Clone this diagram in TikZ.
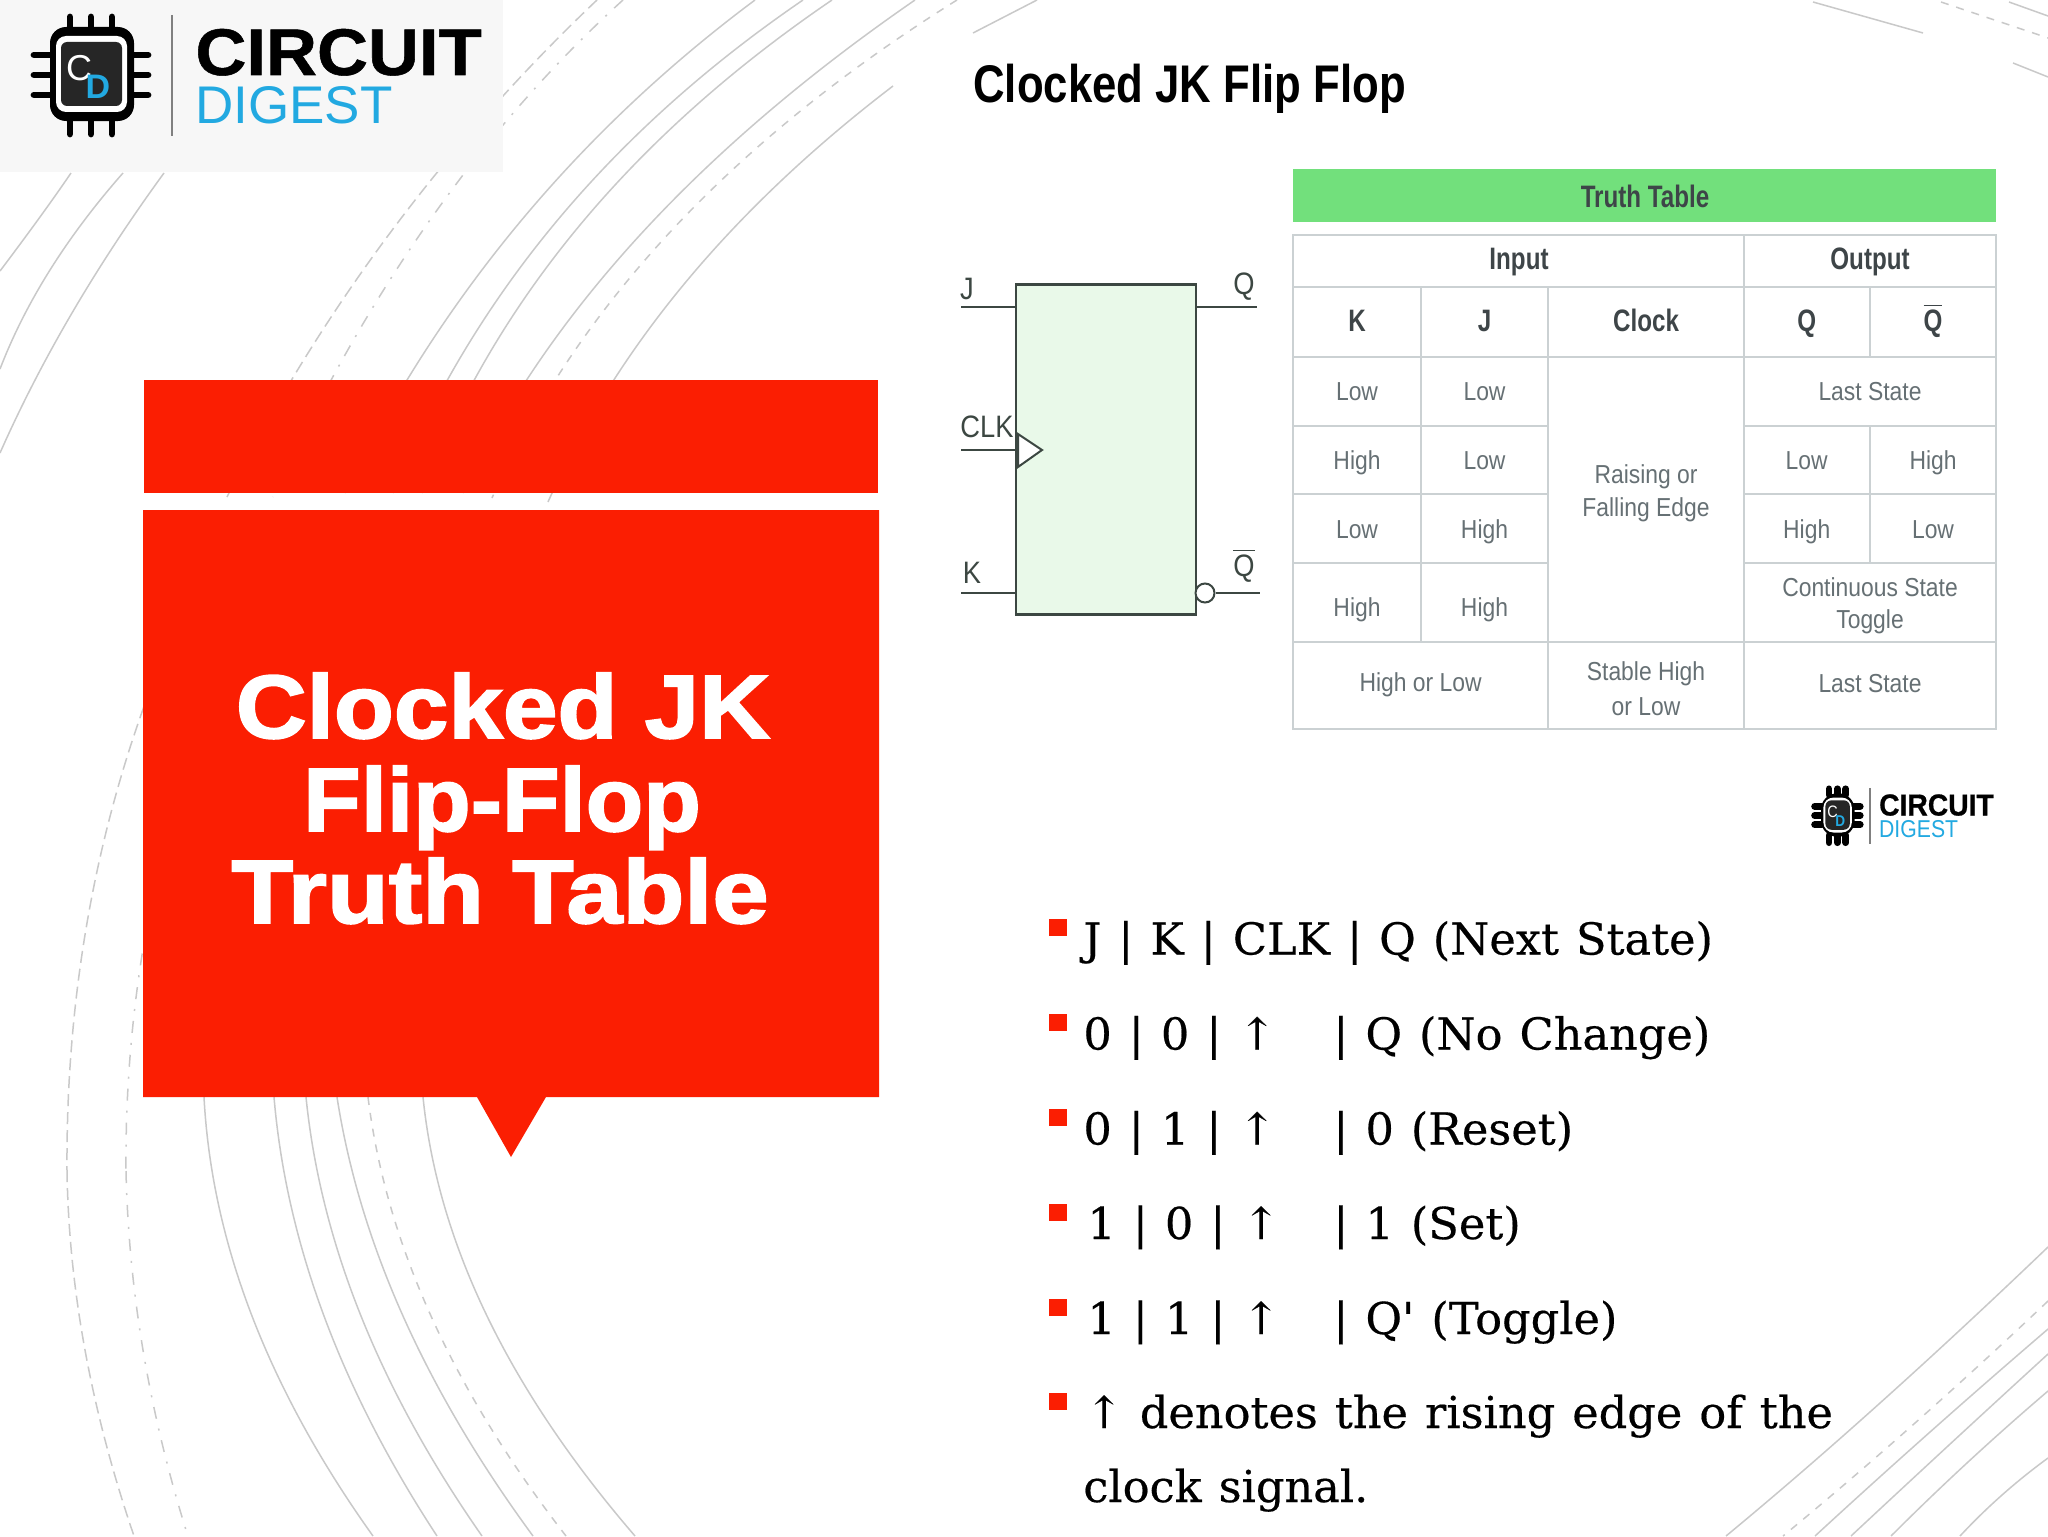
\documentclass[tikz,border=0pt]{standalone}
\usepackage{fontspec}
\usepackage{amsmath}
\usepackage{tikz}
\usetikzlibrary{calc}

\newfontfamily\bannerfont[FakeStretch=1.09,FakeBold=2]{Liberation Sans}
\newfontfamily\titlefont[FakeStretch=.825]{Liberation Sans}
\newfontfamily\headfont[FakeStretch=.78]{Liberation Sans}
\newfontfamily\cellfont[FakeStretch=.88]{Liberation Sans}
\newfontfamily\logofont[FakeStretch=1.07,FakeBold=.8]{Liberation Sans}
\newfontfamily\digestfont{Liberation Sans}
\newfontfamily\listfont[FakeStretch=1.015,WordSpace=1.2,FakeBold=.4]{DejaVu Serif}

\definecolor{slidered}{HTML}{FB1E02}
\definecolor{arcgray}{HTML}{C9C9C9}
\definecolor{headgreen}{HTML}{72E07C}
\definecolor{gridgray}{HTML}{CBD1D3}
\definecolor{headtext}{HTML}{3E4548}
\definecolor{celltext}{HTML}{667074}
\definecolor{wirecol}{HTML}{3C4742}
\definecolor{boxfill}{HTML}{E9F9E9}
\definecolor{logoblue}{HTML}{22A9E1}

% curve through three points
\newcommand{\bgarc}[4]{\draw[#1] (#2) .. controls ($1.3333*(#3)-.3333*(#4)$) and ($1.3333*(#3)-.3333*(#2)$) .. (#4);}

\tikzset{
  arcline/.style={draw=arcgray, line width=.75pt},
  arcdash/.style={arcline, dash pattern=on 4pt off 4pt},
  arclong/.style={arcline, dash pattern=on 6pt off 3pt},
  arcdot/.style={arcline, dash pattern=on 6pt off 5pt on 1pt off 5pt},
  redblock/.style={fill=slidered, draw=none},
  banner/.style={text=white, anchor=base, inner sep=0pt, font=\bannerfont\bfseries\fontsize{45}{46}\selectfont},
  head/.style={text=headtext, inner sep=0pt, text height=11.2pt, text depth=0pt, font=\headfont\bfseries\fontsize{15.5}{18}\selectfont},
  cell/.style={text=celltext, inner sep=0pt, text height=9.4pt, text depth=0pt, font=\cellfont\fontsize{13}{16.5}\selectfont},
  grid line/.style={draw=gridgray, line width=1pt},
  wire/.style={draw=wirecol, line width=1.4pt},
  pinlabel/.style={text=wirecol, inner sep=0pt, text height=11.2pt, text depth=0pt, font=\cellfont\fontsize{15.5}{18}\selectfont},
  item/.style={anchor=base west, inner sep=0pt, font=\listfont\fontsize{22}{26}\selectfont},
  square/.style={fill=slidered, minimum width=9pt, minimum height=8.5pt, inner sep=0pt},
  chippin/.style={draw=black, line width=3.4pt, line cap=round},
  pics/cdlogo/.style={code={
    \draw[chippin] (70,17) -- (70,30) (91,17) -- (91,30) (112,17) -- (112,30);
    \draw[chippin] (70,118) -- (70,134) (91,118) -- (91,134) (112,118) -- (112,134);
    \draw[chippin] (34,55) -- (52,55) (34,75) -- (52,75) (34,95) -- (52,95);
    \draw[chippin] (132,55) -- (148,55) (132,75) -- (148,75) (132,95) -- (148,95);
    \fill[black, rounded corners=8pt] (50,27) rectangle (134,121);
    \fill[white, rounded corners=5pt] (56,36) rectangle (127,112);
    \fill[black!85, rounded corners=3pt] (61,42) rectangle (122,106);
    \node[text=white, inner sep=0pt, font=\digestfont\fontsize{18}{20}\selectfont] (cee) at (79,68) {C};
    \node[text=logoblue, inner sep=0pt, font=\digestfont\bfseries\fontsize{17}{20}\selectfont] (dee) at (98,87) {D};
    \draw[gray, line width=1pt] (172,15) -- (172,136);
    \node[anchor=base west, inner sep=0pt, font=\logofont\bfseries\fontsize{33}{36}\selectfont] (circuit) at (195,75) {CIRCUIT};
    \node[anchor=base west, inner sep=0pt, text=logoblue, font=\digestfont\fontsize{26.5}{30}\selectfont] (digest) at (195,123) {DIGEST};
  }}
}

\begin{document}
\begin{tikzpicture}[x=.5pt, y=-.5pt]
  \useasboundingbox (0,0) rectangle (2048,1536);
  \fill[white] (0,0) rectangle (2048,1536);

  % background curves
  \bgarc{arcline}{71,173}{40,217}{0,271}
  \bgarc{arcline}{123,173}{50,270}{0,369}
  \bgarc{arcline}{164,173}{72,313}{0,453}
  \bgarc{arclong}{597,0}{390,233}{227,497}
  \bgarc{arclong}{150,690}{87,923}{67,1170}
  \bgarc{arclong}{67,1170}{85,1350}{134,1536}
  \bgarc{arcdot}{623,0}{430,220}{273,497}
  \bgarc{arcdot}{148,920}{131,1045}{126,1171}
  \bgarc{arcdot}{126,1171}{143,1350}{186,1530}
  \bgarc{arcline}{755,0}{520,222}{345,493}
  \bgarc{arcline}{803,0}{556,222}{393,493}
  \bgarc{arcline}{832,0}{580,225}{422,493}
  \bgarc{arcline}{915,0}{640,235}{463,493}
  \bgarc{arcdash}{957,0}{672,230}{492,498}
  \bgarc{arcline}{893,86}{685,283}{548,502}
  \bgarc{arcline}{204,1097}{252,1316}{373,1536}
  \bgarc{arcline}{274,1097}{324,1316}{437,1536}
  \bgarc{arcline}{306,1097}{361,1316}{482,1536}
  \bgarc{arcline}{337,1097}{403,1316}{533,1536}
  \bgarc{arcdash}{368,1097}{431,1316}{566,1536}
  \bgarc{arcline}{423,1097}{487,1316}{635,1536}
  \draw[arcline] (973,33) -- (1037,0);
  \draw[arcline] (1813,2) -- (1923,33);
  \draw[arcdash] (1941,2) -- (2048,38);
  \draw[arcline] (2009,2) -- (2048,16);
  \draw[arcline] (2013,63) -- (2048,77);
  \bgarc{arcline}{2048,1247}{1880,1403}{1726,1536}
  \bgarc{arcdash}{2048,1301}{1915,1423}{1783,1536}
  \bgarc{arcline}{2048,1329}{1930,1432}{1815,1536}
  \bgarc{arcline}{2048,1354}{1949,1445}{1851,1536}
  \bgarc{arcline}{2048,1391}{1968,1462}{1891,1536}
  \bgarc{arcline}{2048,1458}{2002,1495}{1960,1536}

  % red blocks
  \fill[redblock] (144,380) rectangle (878,493);
  \fill[redblock] (143,510) -- (879,510) -- (879,1097) -- (546,1097) -- (511,1157) -- (477,1097) -- (143,1097) -- cycle;
  \node[banner] (bannerone) at (503,738) {Clocked JK};
  \node[banner] (bannertwo) at (502,831) {\scalebox{.96}[1]{Flip-Flop}};
  \node[banner] (bannerthree) at (500,923) {\scalebox{1.03}[1]{Truth Table}};

  % logos
  \fill[black!3] (0,0) rectangle (503,172);
  \pic (biglogo) at (0,0) {cdlogo};
  \pic[xscale=.4, yscale=.46, transform shape] (smalllogo) at (1801,781) {cdlogo};

  \node[anchor=base west, inner sep=0pt, font=\titlefont\bfseries\fontsize{26.5}{30}\selectfont] (slidetitle) at (973,103) {Clocked JK Flip Flop};

  % flip flop
  \node[draw=wirecol, fill=boxfill, line width=1.4pt, minimum width=90pt, minimum height=165pt, inner sep=0pt] (ff) at (1106,449.5) {};
  \coordinate (jin) at (961,307);
  \coordinate (clkin) at (961,450);
  \coordinate (kin) at (961,593);
  \coordinate (qout) at (1257,307);
  \coordinate (nqout) at (1260,593);
  \node[draw=wirecol, fill=white, circle, line width=1pt, minimum size=9.5pt, inner sep=0pt] (bubble) at (1205,593) {};
  \draw[wire] (jin) -- (jin -| ff.west);
  \draw[wire] (clkin) -- (clkin -| ff.west);
  \draw[wire] (kin) -- (kin -| ff.west);
  \draw[wire] (qout -| ff.east) -- (qout);
  \draw[wire] (bubble) -- (nqout);
  \coordinate (clktop) at (1018,434);
  \coordinate (clktip) at (1042,450);
  \coordinate (clkbot) at (1018,467);
  \draw[wirecol, line width=1pt, fill=white] (clktop) -- (clktip) -- (clkbot) -- cycle;
  \node[pinlabel] (jlabel) at (967,288) {J};
  \node[pinlabel] (qlabel) at (1244,283) {Q};
  \node[pinlabel] (clklabel) at (987,426) {CLK};
  \node[pinlabel] (klabel) at (972,572) {K};
  \node[pinlabel] (nqlabel) at (1244,565) {$\overline{\mbox{Q}}$};

  % truth table
  \fill[headgreen] (1293,169) rectangle (1996,222);
  \node[head] (tabletitle) at (1645,196) {Truth Table};
  \draw[grid line] (1293,235) rectangle (1996,729);
  \draw[grid line] (1293,287) -- (1996,287);
  \draw[grid line] (1293,356.6) -- (1996,356.6);
  \draw[grid line] (1293,642) -- (1996,642);
  \draw[grid line] (1293,425.5) -- (1548,425.5);
  \draw[grid line] (1293,494) -- (1548,494);
  \draw[grid line] (1293,563) -- (1548,563);
  \draw[grid line] (1743.5,425.5) -- (1996,425.5);
  \draw[grid line] (1743.5,494) -- (1996,494);
  \draw[grid line] (1743.5,563) -- (1996,563);
  \draw[grid line] (1743.5,235) -- (1743.5,729);
  \draw[grid line] (1548,287) -- (1548,729);
  \draw[grid line] (1420.6,287) -- (1420.6,642);
  \draw[grid line] (1870,287) -- (1870,356.6);
  \draw[grid line] (1870,425.5) -- (1870,563);

  \node[head] (input) at (1519,258) {Input};
  \node[head] (output) at (1870,258) {Output};
  \node[head] (colk) at (1357,320) {K};
  \node[head] (colj) at (1484.5,320) {J};
  \node[head] (colclock) at (1646,320) {Clock};
  \node[head] (colq) at (1806.7,320) {Q};
  \node[head] (colnq) at (1933,320) {$\overline{\mbox{Q}}$};

  \node[cell] (k1) at (1357,391) {Low};
  \node[cell] (j1) at (1484.5,391) {Low};
  \node[cell] (k2) at (1357,460) {High};
  \node[cell] (j2) at (1484.5,460) {Low};
  \node[cell] (k3) at (1357,529) {Low};
  \node[cell] (j3) at (1484.5,529) {High};
  \node[cell] (k4) at (1357,607) {High};
  \node[cell] (j4) at (1484.5,607) {High};
  \node[cell] (edgeone) at (1646,474) {Raising or};
  \node[cell] (edgetwo) at (1646,507) {Falling Edge};
  \node[cell] (last1) at (1870,391) {Last State};
  \node[cell] (q2) at (1806.7,460) {Low};
  \node[cell] (nq2) at (1933,460) {High};
  \node[cell] (q3) at (1806.7,529) {High};
  \node[cell] (nq3) at (1933,529) {Low};
  \node[cell] (togone) at (1870,587) {Continuous State};
  \node[cell] (togtwo) at (1870,619) {Toggle};
  \node[cell] (hilo) at (1420.6,682) {High or Low};
  \node[cell] (stableone) at (1646,671) {Stable High};
  \node[cell] (stabletwo) at (1646,706) {or Low};
  \node[cell] (last2) at (1870,683) {Last State};

  % bullet list
  \node[square] (sq1) at (1058,927) {};
  \node[square] (sq2) at (1058,1022) {};
  \node[square] (sq3) at (1058,1117) {};
  \node[square] (sq4) at (1058,1212) {};
  \node[square] (sq5) at (1058,1307) {};
  \node[square] (sq6) at (1058,1401) {};
  \node[item] (row1) at (1083,954.5) {J | K | CLK | Q (Next State)};
  \node[item] (row2) at (1083,1049.5) {0 | 0 | ↑};
  \node[item] (row2b) at (1333,1049.5) {| Q (No Change)};
  \node[item] (row3) at (1083,1144.5) {0 | 1 | ↑};
  \node[item] (row3b) at (1333,1144.5) {| 0 (Reset)};
  \node[item] (row4) at (1087,1239) {1 | 0 | ↑};
  \node[item] (row4b) at (1333,1239) {| 1 (Set)};
  \node[item] (row5) at (1087,1334) {1 | 1 | ↑};
  \node[item] (row5b) at (1333,1334) {| Q' (Toggle)};
  \node[item] (row6) at (1085,1428) {↑ denotes the rising edge of the};
  \node[item] (row6b) at (1083,1502) {clock signal.};
\end{tikzpicture}
\end{document}
